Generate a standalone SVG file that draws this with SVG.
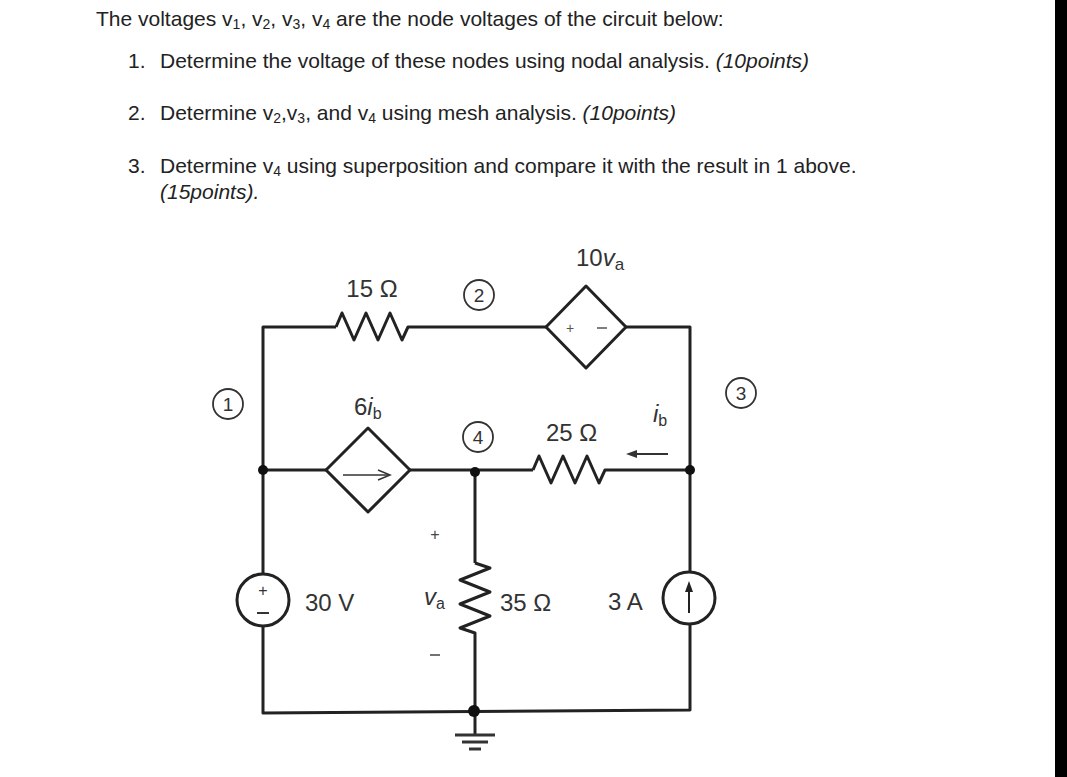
<svg xmlns="http://www.w3.org/2000/svg" width="1067" height="777" viewBox="0 0 1067 777">
<style>
.t{font-family:"Liberation Sans",Arial,sans-serif;font-size:21px;fill:#222}
.s{font-size:14px}
.c{font-family:"Liberation Sans",Arial,sans-serif;font-size:24px;fill:#333}
.w{fill:none;stroke:#222;stroke-width:3;stroke-linejoin:round}
.n{fill:none;stroke:#333;stroke-width:1.8}
.nl{font-family:"Liberation Sans",Arial,sans-serif;font-size:19px;fill:#333;text-anchor:middle}
.i{font-style:italic}
</style>
<rect width="1067" height="777" fill="#fff"/>
<rect x="1055" y="0" width="12" height="777" fill="#000"/>
<g id="text">
<text class="t" x="96" y="26">The voltages v<tspan class="s" dy="3">1</tspan><tspan dy="-3">, v</tspan><tspan class="s" dy="3">2</tspan><tspan dy="-3">, v</tspan><tspan class="s" dy="3">3</tspan><tspan dy="-3">, v</tspan><tspan class="s" dy="3">4</tspan><tspan dy="-3"> are the node voltages of the circuit below:</tspan></text>
<text class="t" x="128" y="68">1.</text>
<text class="t" x="160" y="68">Determine the voltage of these nodes using nodal analysis. <tspan class="i">(10points)</tspan></text>
<text class="t" x="128" y="120">2.</text>
<text class="t" x="160" y="120">Determine v<tspan class="s" dy="3">2</tspan><tspan dy="-3">,v</tspan><tspan class="s" dy="3">3</tspan><tspan dy="-3">, and v</tspan><tspan class="s" dy="3">4</tspan><tspan dy="-3"> using mesh analysis. </tspan><tspan class="i">(10points)</tspan></text>
<text class="t" x="128" y="173">3.</text>
<text class="t" x="160" y="173">Determine v<tspan class="s" dy="3">4</tspan><tspan dy="-3"> using superposition and compare it with the result in 1 above.</tspan></text>
<text class="t i" x="160" y="199">(15points).</text>
</g>
<g id="connectors">
<polyline class="w" points="263,575 263,327 336,327"/>
<polyline class="w" points="336,327 342,313 354,340 366,313 378,340 390,313 402,340 408,327 546,327"/>
<polyline class="w" points="626,327 690,327 690,571"/>
<polyline class="w" points="263,470 326,470"/>
<polyline class="w" points="410,470 533,470"/>
<polyline class="w" points="533,470 539,456 551,483 563,456 575,483 587,456 599,483 605,470 690,470"/>
<polyline class="w" points="475,470 475,563"/>
<polyline class="w" points="475,563 490,568 460,580 490,592 460,604 490,616 460,628 475,633 475,712"/>
<polyline class="w" points="263,626 263,713 690,710 690,625"/>
<line class="w" x1="475" y1="712" x2="475" y2="735"/>
<line x1="455" y1="735" x2="495" y2="735" stroke="#333" stroke-width="3"/>
<line x1="462" y1="742" x2="488" y2="742" stroke="#333" stroke-width="3"/>
<line x1="469" y1="749" x2="481" y2="749" stroke="#333" stroke-width="3"/>
<circle cx="263" cy="470" r="5" fill="#111"/>
<circle cx="475" cy="472" r="5" fill="#111"/>
<circle cx="690" cy="470" r="5" fill="#111"/>
<circle cx="474" cy="711" r="6" fill="#111"/>
</g>
<g id="r15"><text class="c" x="372" y="297" text-anchor="middle">15 Ω</text></g>
<g id="dep-v">
<polygon class="w" points="546,327 586,286 626,327 586,368"/>
<text x="570" y="333" font-family="Liberation Sans,sans-serif" font-size="14" fill="#555" text-anchor="middle">+</text>
<line x1="597" y1="328" x2="607" y2="328" stroke="#555" stroke-width="1.5"/>
<text class="c" x="576" y="266" font-family="Liberation Serif,serif">10<tspan class="i">v</tspan><tspan font-size="17" dy="4">a</tspan></text>
</g>
<g id="dep-i">
<polygon class="w" points="326,470 368,428 410,470 368,512"/>
<line x1="343" y1="475" x2="388" y2="475" stroke="#333" stroke-width="1.5"/>
<polyline points="378,470 390,475 378,480" fill="none" stroke="#333" stroke-width="1.5"/>
<text class="c" x="354" y="415">6<tspan class="i">i</tspan><tspan font-size="16" dy="4">b</tspan></text>
</g>
<g id="r25">
<text class="c" x="546" y="441">25 Ω</text>
<text class="c" x="653" y="422"><tspan class="i">i</tspan><tspan font-size="16" dy="4">b</tspan></text>
<line x1="632" y1="454" x2="668" y2="454" stroke="#333" stroke-width="2"/>
<polygon points="626,454 637,450 637,458" fill="#333"/>
</g>
<g id="vs30">
<circle class="w" cx="263" cy="600" r="26"/>
<text x="263" y="596" font-family="Liberation Sans,sans-serif" font-size="16" fill="#333" text-anchor="middle">+</text>
<line x1="257" y1="613" x2="269" y2="613" stroke="#333" stroke-width="2"/>
<text class="c" x="305" y="611">30 V</text>
</g>
<g id="r35">
<text x="435" y="540" font-family="Liberation Sans,sans-serif" font-size="16" fill="#444" text-anchor="middle">+</text>
<text class="c i" x="424" y="605" font-family="Liberation Serif,serif">v<tspan font-size="16" dy="4" font-style="normal">a</tspan></text>
<line x1="430" y1="655" x2="440" y2="655" stroke="#444" stroke-width="1.5"/>
<text class="c" x="500" y="611">35 Ω</text>
</g>
<g id="is3">
<circle class="w" cx="689" cy="598" r="26"/>
<line x1="689" y1="613" x2="689" y2="587" stroke="#222" stroke-width="2"/>
<polygon points="689,581 685,592 693,592" fill="#222"/>
<text class="c" x="608" y="610">3 A</text>
</g>
<g id="node1"><circle class="n" cx="228" cy="404" r="15"/><text class="nl" x="228" y="411">1</text></g>
<g id="node2"><circle class="n" cx="479" cy="295" r="15"/><text class="nl" x="479" y="302">2</text></g>
<g id="node3"><circle class="n" cx="741" cy="393" r="15"/><text class="nl" x="741" y="400">3</text></g>
<g id="node4"><circle class="n" cx="478" cy="437" r="15"/><text class="nl" x="478" y="444">4</text></g>
</svg>
